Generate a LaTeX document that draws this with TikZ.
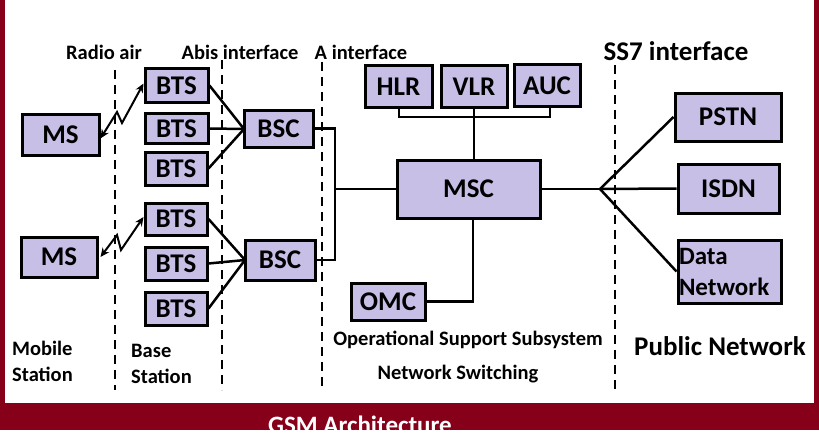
\documentclass[tikz,border=0pt]{standalone}
\usepackage{fontspec}
\setmainfont{Carlito}
\usetikzlibrary{arrows.meta}
\definecolor{frame}{HTML}{87001A}
\definecolor{boxfill}{HTML}{C8BFE7}
\begin{document}
\begin{tikzpicture}[x=1pt,y=-1pt,
  box/.style={draw=black,line width=3pt,fill=boxfill,inner sep=0pt,font=\bfseries\fontsize{27}{30}\selectfont},
  lbl/.style={font=\bfseries\fontsize{20.5}{24}\selectfont,inner sep=0pt},
  big/.style={font=\bfseries\fontsize{27}{30}\selectfont,inner sep=0pt},
  dashln/.style={line width=2.5pt,dash pattern=on 9pt off 6pt},
  con/.style={line width=2.5pt},
  zz/.style={line width=2pt,{Stealth[length=9pt,width=8pt]}-{Stealth[length=9pt,width=8pt]}}]
\fill[frame] (0,0) rectangle (819,430);
\fill[white] (5,0) rectangle (814,403);
% dashed lines
\draw[dashln] (115,70) -- (115,390);
\draw[dashln] (222,60) -- (222,390);
\draw[dashln] (322,62) -- (322,390);
\draw[dashln] (615,65) -- (615,390);
% top labels
\node[lbl] (lra) at (104,52) {Radio air};
\node[lbl] (lab) at (240,52) {Abis interface};
\node[lbl] (lai) at (361,52) {A interface};
\node[big] (lss) at (676,51) {SS7 interface};
% boxes
\node[box,minimum width=77pt,minimum height=41pt] (ms1) at (60.5,134.5) {MS};
\node[box,minimum width=76pt,minimum height=40pt] (ms2) at (59,257) {MS};
\node[box,minimum width=63pt,minimum height=33pt] (bts1) at (176.5,85.5) {BTS};
\node[box,minimum width=63pt,minimum height=30pt] (bts2) at (176.5,128.5) {BTS};
\node[box,minimum width=62pt,minimum height=33pt] (bts3) at (176,168.5) {BTS};
\node[box,minimum width=62pt,minimum height=32pt] (bts4) at (176,219) {BTS};
\node[box,minimum width=62pt,minimum height=33pt] (bts5) at (176,263.5) {BTS};
\node[box,minimum width=62pt,minimum height=33pt] (bts6) at (176,308.5) {BTS};
\node[box,minimum width=69pt,minimum height=37pt] (bsc1) at (278.5,128.5) {BSC};
\node[box,minimum width=70pt,minimum height=40pt] (bsc2) at (280,260) {BSC};
\node[box,minimum width=143pt,minimum height=58pt] (msc) at (468.5,189) {MSC};
\node[box,minimum width=67pt,minimum height=41pt] (hlr) at (398.5,86.5) {HLR};
\node[box,minimum width=66pt,minimum height=41pt] (vlr) at (474,86.5) {VLR};
\node[box,minimum width=66pt,minimum height=41pt] (auc) at (547,85.5) {AUC};
\node[box,minimum width=74pt,minimum height=37pt] (omc) at (388,301.5) {OMC};
\node[box,minimum width=106pt,minimum height=48pt] (pstn) at (728,117) {PSTN};
\node[box,minimum width=101pt,minimum height=49pt] (isdn) at (728.5,188.5) {ISDN};
\node[box,minimum width=103pt,minimum height=63pt,align=left,text width=101pt,font=\bfseries\fontsize{25}{31}\selectfont] (dn) at (729.5,271.5) {Data\\Network};
% connectors
\coordinate (j1) at (244,129);
\coordinate (j2) at (245,260);
\draw[con] (bts1.east) -- (j1);
\draw[con] (bts2.east) -- (j1);
\draw[con] (bts3.east) -- (j1);
\draw[con] (bts4.east) -- (j2);
\draw[con] (bts5.east) -- (j2);
\draw[con] (bts6.east) -- (j2);
\coordinate (va) at (335,128.5);
\coordinate (vb) at (335,260);
\coordinate (vm) at (335,189);
\draw[con] (bsc1.east) -- (va) -- (vb) -- (bsc2.east);
\draw[con] (vm) -- (msc.west);
\coordinate (b1) at (399,117);
\coordinate (b2) at (550,117);
\draw[con] (399,107) -- (b1) -- (b2) -- (550,106);
\draw[con] (vlr.south) -- (msc.north -| vlr.south);
\coordinate (oc) at (473,301.5);
\draw[con] (omc.east) -- (oc) -- (473,218);
\coordinate (fan) at (600,189);
\draw[con] (msc.east) -- (fan);
\draw[con] (fan) -- (pstn.west);
\draw[con] (fan) -- (isdn.west);
\draw[con] (fan) -- (dn.west);
% radio links
\draw[zz] ([yshift=-4pt]ms1.east) -- (117,112) -- (122,123) -- ([yshift=2pt]bts1.west);
\draw[zz] ([xshift=2pt]ms2.east) -- (117,235) -- (121,250) -- ([yshift=2pt]bts4.west);
% bottom labels
\node[lbl,anchor=west,align=left] (lms) at (12,361) {Mobile\\[2pt]Station};
\node[lbl,anchor=west,align=left] (lbs) at (131,364) {Base\\[2pt]Station};
\node[lbl] (loss) at (468,340) {Operational Support Subsystem};
\node[lbl] (lns) at (458,374) {Network Switching};
\node[big] (lpn) at (720,346) {Public Network};
\node[font=\bfseries\fontsize{25}{26}\selectfont,text=white,inner sep=0pt] (title) at (360,425) {GSM Architecture};
\end{tikzpicture}
\end{document}
